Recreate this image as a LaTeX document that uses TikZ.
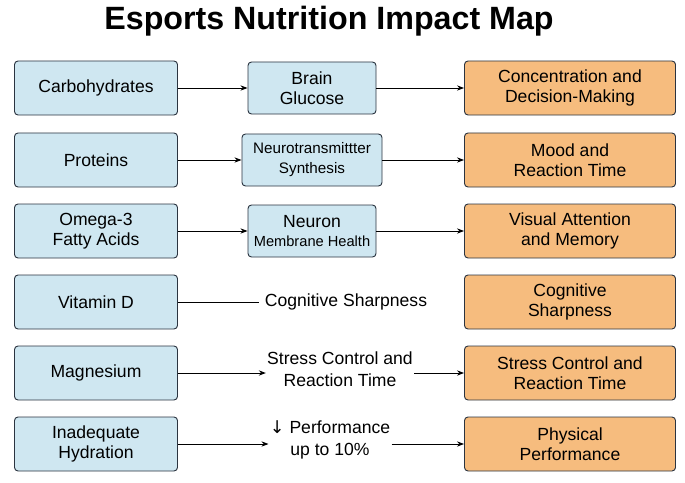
\documentclass[tikz,border=0pt]{standalone}
\usepackage{fontspec}
\setmainfont{Liberation Sans}
\newfontfamily\symfont{DejaVu Sans}
\usetikzlibrary{arrows.meta,positioning}
\definecolor{nutblue}{HTML}{CFE7F1}
\definecolor{nutorange}{HTML}{F6BC7E}
\definecolor{nutline}{HTML}{2B3440}

\begin{document}
\begin{tikzpicture}[x=0.03cm,y=-0.03cm,
  box/.style={draw=nutline,line width=0.8pt,rounded corners=3pt,align=center,
    font=\fontsize{15}{17}\selectfont,inner sep=2pt},
  src/.style={box,fill=nutblue,minimum width=4.89cm,minimum height=1.62cm},
  mid/.style={box,fill=nutblue,minimum width=3.84cm,minimum height=1.56cm},
  res/.style={box,fill=nutorange,minimum width=6.33cm,minimum height=1.62cm},
  lbl/.style={align=center,font=\fontsize{15}{19}\selectfont,inner sep=1pt},
  link/.style={-{Stealth[length=6pt]},line width=0.8pt}]

  \useasboundingbox (0,0) rectangle (685,482);

  % ---- Title -------------------------------------------------
  \node[font=\bfseries\fontsize{27.5}{30}\selectfont] (title) at (329,21)
    {Esports Nutrition Impact Map};

  % ---- Sources -----------------------------------------------
  \node[src] (carb) at (96,88)  {Carbohydrates};
  \node[src] (prot) at (96,160) {Proteins};
  \node[src] (omeg) at (96,231) {Omega-3\\Fatty Acids};
  \node[src] (vitd) at (96,302) {Vitamin D};
  \node[src] (magn) at (96,373) {Magnesium};
  \node[src] (hydr) at (96,444) {Inadequate\\Hydration};

  % ---- Mechanisms --------------------------------------------
  \node[mid] (gluc) at (312,88) {Brain\\Glucose};
  \node[mid,minimum width=4.2cm,font=\fontsize{13}{17}\selectfont]
    (neur) at (312,160) {Neurotransmittter\\Synthesis};
  \node[mid] (memb) at (312,231) {Neuron\\{\fontsize{12.5}{15}\selectfont Membrane Health}};
  \node[lbl,inner sep=5pt] (sharp) at (346,302) {Cognitive Sharpness};
  \node[lbl] (stress) at (340,369) {Stress Control and\\Reaction Time};
  \node[lbl] (perf) at (330,440) {{\symfont\char"2193} Performance\\up to 10\%};

  % ---- Outcomes ----------------------------------------------
  \node[res] (conc) at (570,88)  {Concentration and\\Decision-Making};
  \node[res] (mood) at (570,160) {Mood and\\Reaction Time};
  \node[res] (visu) at (570,231) {Visual Attention\\and Memory};
  \node[res] (cogn) at (570,302) {Cognitive\\Sharpness};
  \node[res] (strc) at (570,373) {Stress Control and\\Reaction Time};
  \node[res] (phys) at (570,444) {Physical\\Performance};

  % ---- Links -------------------------------------------------
  \draw[link] (carb) -- (gluc);
  \draw[link] (gluc) -- (conc);
  \draw[link] (prot) -- (neur);
  \draw[link] (neur) -- (mood);
  \draw[link] (omeg) -- (memb);
  \draw[link] (memb) -- (visu);
  \draw[line width=0.8pt] (vitd) -- (sharp);
  \draw[link] (magn) -- (magn -| stress.west);
  \draw[link] (stress.east |- strc) -- (strc);
  \draw[link] (hydr) -- (hydr -| perf.west);
  \draw[link] (perf.east |- phys) -- (phys);

\end{tikzpicture}
\end{document}
